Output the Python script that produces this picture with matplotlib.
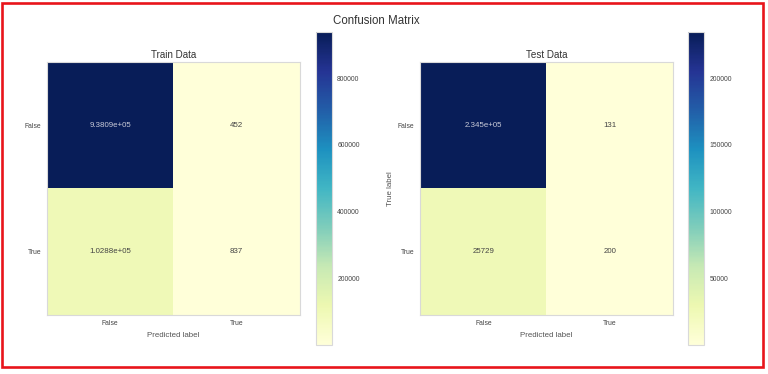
import numpy as np
import matplotlib
matplotlib.use("Agg")
import matplotlib.pyplot as plt
from matplotlib.patches import Rectangle

plt.rcParams['font.family'] = ['Liberation Sans', 'DejaVu Sans']

# confusion matrices
labels = ['False', 'True']
train_cm = np.array([[938090, 452],
                     [102880, 837]])
test_cm = np.array([[234500, 131],
                    [25729, 200]])
train_ticks = [200000, 400000, 600000, 800000]
test_ticks = [50000, 100000, 150000, 200000]

fig = plt.figure(figsize=(7.68, 3.74), dpi=100)
fig.patch.set_facecolor('white')
cmap = plt.cm.YlGnBu
edge = '#d9d9d9'


def draw_cm(ax, cax, cm, title, ticks, ylabel=None):
    im = ax.imshow(cm, cmap=cmap, interpolation='nearest',
                   vmin=cm.min(), vmax=cm.max())
    thresh = (cm.max() + cm.min()) / 2.0
    for i in range(cm.shape[0]):
        for j in range(cm.shape[1]):
            color = '#c9cbd8' if cm[i, j] > thresh else '#444444'
            ax.text(j, i, format(cm[i, j], '.5g'), ha='center', va='center',
                    color=color, fontsize=5.7)
    ax.set_xticks(range(len(labels)))
    ax.set_yticks(range(len(labels)))
    ax.set_xticklabels(labels)
    ax.set_yticklabels(labels)
    ax.tick_params(length=0, labelsize=4.9, labelcolor='#444444', pad=4)
    ax.set_xlabel('Predicted label', fontsize=5.7, color='#555555', labelpad=3)
    if ylabel:
        ax.set_ylabel(ylabel, fontsize=5.7, color='#555555', labelpad=3)
    ax.set_title(title, fontsize=7.1, color='#333333', pad=3)
    for s in ax.spines.values():
        s.set_color(edge)
        s.set_linewidth(0.8)
    cb = fig.colorbar(im, cax=cax, ticks=ticks)
    cb.ax.tick_params(length=0, labelsize=4.9, labelcolor='#444444', pad=4)
    cb.outline.set_edgecolor(edge)
    cb.outline.set_linewidth(0.8)


ax1 = fig.add_axes([0.0612, 0.158, 0.3294, 0.676])
cax1 = fig.add_axes([0.411, 0.0775, 0.0208, 0.837])
ax2 = fig.add_axes([0.547, 0.158, 0.3294, 0.676])
cax2 = fig.add_axes([0.896, 0.0775, 0.0208, 0.837])

draw_cm(ax1, cax1, train_cm, 'Train Data', train_ticks)
draw_cm(ax2, cax2, test_cm, 'Test Data', test_ticks, ylabel='True label')

fig.text(0.49, 0.945, 'Confusion Matrix', ha='center', va='center',
         fontsize=8.3, color='#333333')

# red frame around the whole picture
fig.patches.append(Rectangle((0.003, 0.019), 0.990, 0.973, transform=fig.transFigure,
                             fill=False, edgecolor='#e8141b', linewidth=1.9))

fig.savefig('out.png', dpi=100)
